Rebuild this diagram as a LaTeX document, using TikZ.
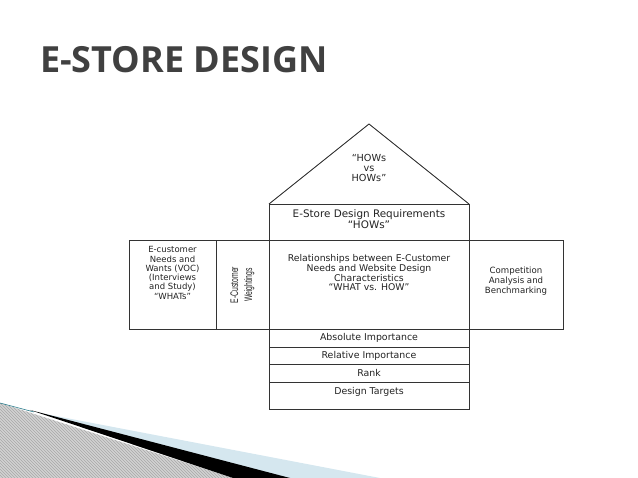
\documentclass[tikz,border=0pt]{standalone}
\usepackage{fontspec}
\setmainfont{DejaVu Sans}
\newfontfamily\titlefont{Open Sans}
\newfontfamily\narrowfont{Liberation Sans}
\usetikzlibrary{patterns}
\definecolor{titlegray}{HTML}{404040}
\definecolor{linegray}{HTML}{333333}
\definecolor{txt}{HTML}{222222}
\definecolor{hatchbg}{HTML}{D2D2D2}
\definecolor{hatchln}{HTML}{A8A8A8}
\definecolor{lightblue}{HTML}{D5E7EF}
\definecolor{tealline}{HTML}{2E7D8C}
\tikzset{
  cell/.style={draw=linegray, line width=0.9pt, inner sep=0pt, outer sep=0pt},
  lbl/.style={text=txt, align=center, inner sep=0pt, font=\fontsize{9.4}{9.2}\selectfont},
}
\begin{document}
\begin{tikzpicture}[x=1pt,y=-1pt]
\useasboundingbox (0,0) rectangle (638,478);
% bottom decoration
\fill[hatchbg] (0,403) -- (233,478) -- (0,478) -- cycle;
\fill[pattern=north west lines, pattern color=hatchln] (0,403) -- (233,478) -- (0,478) -- cycle;
\fill[lightblue] (40,413) -- (380,478) -- (285,478) -- cycle;
\fill[black] (30,410) -- (290,478) -- (233,478) -- cycle;
\draw[tealline, line width=0.6pt] (0,403) -- (34,412);
% title
\node[anchor=base west, inner sep=0pt, text=titlegray, font=\titlefont\bfseries\fontsize{36}{40}\selectfont] (title) at (40,73) {E-STORE DESIGN};
% cells
\node[cell, minimum width=200, minimum height=36] (req) at (369,222) {};
\node[cell, minimum width=200, minimum height=89] (rel) at (369,284.5) {};
\node[cell, minimum width=87, minimum height=89] (voc) at (172.5,284.5) {};
\node[cell, minimum width=53, minimum height=89] (wgt) at (242.5,284.5) {};
\node[cell, minimum width=94, minimum height=89] (comp) at (516,284.5) {};
\node[cell, minimum width=200, minimum height=18] (abs) at (369,338) {};
\node[cell, minimum width=200, minimum height=17] (relimp) at (369,355.5) {};
\node[cell, minimum width=200, minimum height=18] (rank) at (369,373) {};
\node[cell, minimum width=200, minimum height=27] (targ) at (369,395.5) {};
% roof
\coordinate (apex) at (369,124);
\draw[linegray, line width=0.9pt] (req.north west) -- (apex) -- (req.north east);
% labels
\node[lbl, font=\fontsize{9.7}{10}\selectfont] (roofl) at (369,168) {``HOWs\\vs\\HOWs''};
\node[lbl, font=\fontsize{10.4}{9.6}\selectfont] (reql) at (369,219.5) {E-Store Design Requirements\\``HOWs''};
\node[lbl, font=\fontsize{9.3}{9}\selectfont] (rell) at (369,273) {Relationships between E-Customer\\Needs and Website Design\\Characteristics\\``WHAT vs. HOW''};
\node[lbl, font=\fontsize{8.5}{9.3}\selectfont] (vocl) at (172.5,273) {E-customer\\Needs and\\Wants (VOC)\\(Interviews\\and Study)\\``WHATs''};
\node[lbl, font=\fontsize{8.6}{10}\selectfont] (compl) at (516,281) {Competition\\Analysis and\\Benchmarking};
\node[lbl, rotate=90, font=\narrowfont\fontsize{11}{14}\selectfont] (wgtl) at (242.5,285) {\scalebox{0.62}[1]{E-Customer}\\\scalebox{0.62}[1]{Weightings}};
\node[lbl] (absl) at (369,338) {Absolute Importance};
\node[lbl] (relimpl) at (369,355.5) {Relative Importance};
\node[lbl] (rankl) at (369,373) {Rank};
\node[lbl] (targl) at (369,392) {Design Targets};
\end{tikzpicture}
\end{document}
